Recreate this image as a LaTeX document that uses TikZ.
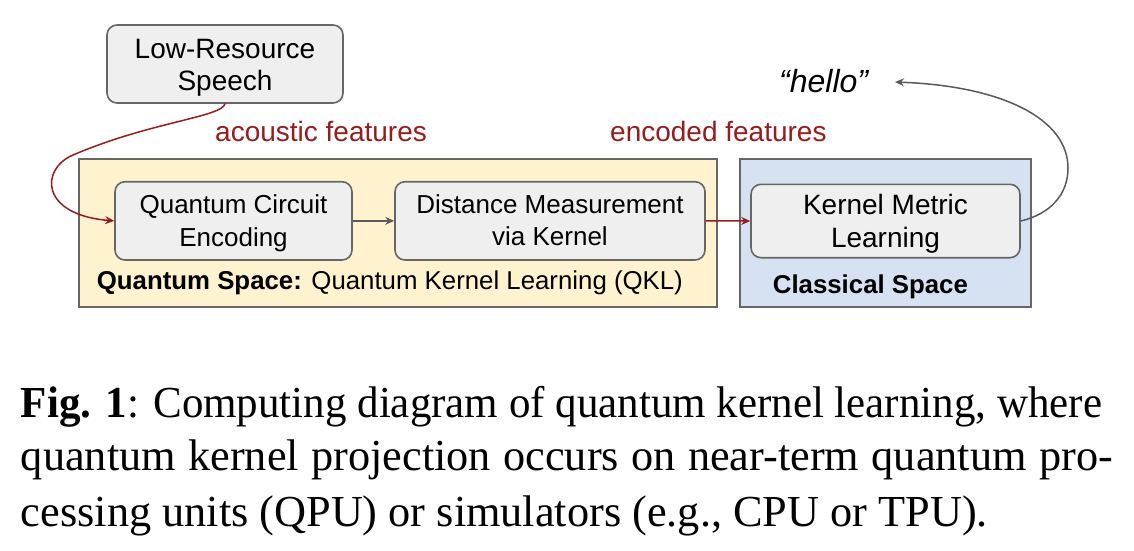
\documentclass[tikz,border=0pt]{standalone}
\usepackage{fontspec}
\setmainfont{Liberation Serif}
\newfontfamily\arialf{Liberation Sans}
\usetikzlibrary{arrows.meta}
\definecolor{qyellow}{RGB}{255,242,206}
\definecolor{cblue}{RGB}{214,226,241}
\definecolor{boxgray}{RGB}{239,239,239}
\definecolor{edgegray}{RGB}{102,102,102}
\definecolor{arrowgray}{RGB}{90,90,90}
\definecolor{darkred}{RGB}{153,27,27}
\newcommand{\sfsz}[1]{\arialf\fontsize{#1}{32.5}\selectfont}
\newcommand{\twolines}[3]{\rule{0pt}{#1}#2\\#3\rule[-0.212em]{0pt}{0pt}}
\newcommand{\capfit}[2]{{\spaceskip=.25em plus .5em minus .2em\relax\makebox[#1][s]{#2}}}
\begin{document}
\begin{tikzpicture}[x=1pt,y=-1pt,
  region/.style={draw=edgegray, line width=1.6pt, inner sep=0pt},
  procbox/.style={draw=edgegray, fill=boxgray, line width=1.6pt, rounded corners=10pt, inner sep=0pt, align=center},
  lbl/.style={inner sep=0pt, anchor=base west},
  conn/.style={line width=1.5pt, -{Stealth[length=9pt,width=8pt,inset=3pt]}},
  capline/.style={inner sep=0pt, anchor=base west, font=\fontsize{44.3}{54}\selectfont}
]
\useasboundingbox (0,0) rectangle (1134,550);

% regions
\node[region, fill=qyellow, minimum width=638pt, minimum height=148pt] (qspace) at (398,233) {};
\node[region, fill=cblue, minimum width=291pt, minimum height=148pt] (cspace) at (885.5,233) {};

% process boxes
\node[procbox, font=\sfsz{28}, minimum width=236pt, minimum height=78pt] (speech) at (225,64) {\twolines{0.97em}{Low-Resource}{Speech}};
\node[procbox, font=\sfsz{26}, minimum width=237pt, minimum height=78.3pt] (qc) at (233.5,220.85) {\twolines{0.93em}{Quantum Circuit}{Encoding}};
\node[procbox, font=\sfsz{26}, minimum width=310pt, minimum height=78.3pt] (dist) at (550,220.85) {\twolines{0.88em}{Distance Measurement}{via Kernel}};
\node[procbox, font=\sfsz{28}, minimum width=269pt, minimum height=73.4pt] (kernel) at (885.5,221) {\twolines{0.94em}{Kernel Metric}{Learning}};

% labels
\node[lbl, font=\sfsz{28}, text=darkred] (acoustic) at (215,141.5) {acoustic features};
\node[lbl, font=\sfsz{28}, text=darkred] (encoded) at (610,141.5) {encoded features};
\node[lbl, font=\arialf\itshape\fontsize{32}{38}\selectfont] (hello) at (779,92.3) {“hello”};
\node[lbl, font=\sfsz{25.8}] (qlabel) at (96.7,289.5) {\textbf{Quantum Space:} Quantum Kernel Learning (QKL)};
\node[lbl, font=\sfsz{25.8}\bfseries] (clabel) at (772.7,293.3) {Classical Space};

% connectors
\coordinate (bend1) at (73,155);
\coordinate (bend2) at (1068,168);
\coordinate (hellotip) at (895,82);
\draw[conn, color=darkred] (speech.south) .. controls (222,117) and (150,122) .. (bend1)
  .. controls (40,169) and (40,215) .. (qc.west);
\draw[conn, color=arrowgray] (qc.east) -- (dist.west);
\draw[conn, color=darkred] (dist.east) -- (kernel.west);
\draw[conn, color=arrowgray] (kernel.east) .. controls (1050,214) and (1068,195) .. (bend2)
  .. controls (1068,120) and (1005,86) .. (hellotip);

% caption
\node[capline] (cap1) at (20.7,417.7) {\resizebox{1081pt}{\height}{\textbf{Fig. 1}: Computing diagram of quantum kernel learning, where}};
\node[capline] (cap2) at (20.7,470) {\capfit{1092pt}{quantum kernel projection occurs on near-term quantum pro-}};
\node[capline] (cap3) at (20.7,526.7) {cessing units (QPU) or simulators (e.g., CPU or TPU).};
\end{tikzpicture}
\end{document}
